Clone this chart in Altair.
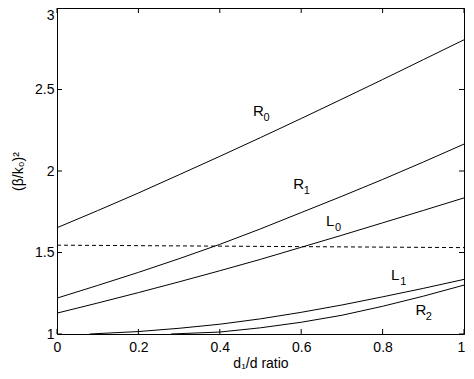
import altair as alt
import pandas as pd

# ---- data ----
x_main = [0.0, 0.1, 0.2, 0.3, 0.4, 0.5, 0.6, 0.7, 0.8, 0.9, 1.0]
r0 = [1.652, 1.757, 1.865, 1.977, 2.090, 2.205, 2.322, 2.441, 2.561, 2.683, 2.805]
r1 = [1.220, 1.298, 1.378, 1.462, 1.550, 1.645, 1.745, 1.845, 1.948, 2.055, 2.165]
l0 = [1.128, 1.190, 1.254, 1.320, 1.388, 1.458, 1.532, 1.606, 1.682, 1.758, 1.835]
x_l1 = [0.08, 0.2, 0.3, 0.4, 0.5, 0.6, 0.7, 0.8, 0.9, 1.0]
l1 = [1.000, 1.015, 1.035, 1.060, 1.093, 1.133, 1.178, 1.228, 1.280, 1.335]
x_r2 = [0.28, 0.4, 0.5, 0.6, 0.7, 0.8, 0.9, 1.0]
r2 = [1.000, 1.012, 1.038, 1.072, 1.115, 1.170, 1.232, 1.300]
x_dash = [0.0, 1.0]
y_dash = [1.545, 1.530]

x_ticks = [0, 0.2, 0.4, 0.6, 0.8, 1]
y_ticks = [1, 1.5, 2, 2.5, 3]

lab_letter = ["R", "R", "L", "L", "R"]
lab_sub = ["0", "1", "0", "1", "2"]
lab_x = [0.495, 0.594, 0.671, 0.831, 0.894]
lab_y = [2.366, 1.921, 1.695, 1.360, 1.146]

FONT = "Liberation Sans"
W, H = 407, 326

rows = []
for name, xs_, ys_ in [("R0", x_main, r0), ("R1", x_main, r1), ("L0", x_main, l0),
                       ("L1", x_l1, l1), ("R2", x_r2, r2)]:
    for a, b in zip(xs_, ys_):
        rows.append({"curve": name, "x": a, "y": b})
curves = pd.DataFrame(rows)
dash = pd.DataFrame({"x": x_dash, "y": y_dash})
labels = pd.DataFrame({"letter": lab_letter, "sub": lab_sub, "x": lab_x, "y": lab_y})
xt = pd.DataFrame({"t": x_ticks})
yt = pd.DataFrame({"t": y_ticks})

xs = alt.Scale(domain=[0, 1], nice=False, zero=False)
ys = alt.Scale(domain=[1, 3], nice=False, zero=False)

xaxis = alt.Axis(values=x_ticks, format="~g", title="d₁/d ratio", ticks=False,
                 grid=False, labelFont=FONT, labelFontSize=14, labelColor="black",
                 labelPadding=6, titleFont=FONT, titleFontSize=14, titleFontWeight="normal",
                 titleColor="black", titlePadding=2, domainColor="black",
                 labelFlush=False,
                 labelOffset=alt.ExprRef(expr="datum.value == 1 ? -3 : 0"))
yaxis = alt.Axis(values=y_ticks, format="~g", title="(β/k₀)²", ticks=False,
                 grid=False, labelFont=FONT, labelFontSize=14, labelColor="black",
                 labelPadding=3, titleFont=FONT, titleFontSize=14, titleFontWeight="normal",
                 titleColor="black", titlePadding=9, domainColor="black",
                 labelFlush=False,
                 labelOffset=alt.ExprRef(expr="datum.value == 3 ? 7 : 0"))

lines = alt.Chart(curves).mark_line(color="black", strokeWidth=1).encode(
    x=alt.X("x:Q", scale=xs, axis=xaxis),
    y=alt.Y("y:Q", scale=ys, axis=yaxis),
    detail="curve:N",
)
dashed = alt.Chart(dash).mark_line(color="black", strokeWidth=1, strokeDash=[4, 3]).encode(
    x=alt.X("x:Q", scale=xs), y=alt.Y("y:Q", scale=ys)
)
letters = alt.Chart(labels).mark_text(font=FONT, fontSize=15, color="black",
                                      align="center", baseline="middle").encode(
    x=alt.X("x:Q", scale=xs), y=alt.Y("y:Q", scale=ys), text="letter:N"
)
subs = alt.Chart(labels).mark_text(font=FONT, fontSize=11, color="black",
                                   align="center", baseline="middle", dx=8, dy=7).encode(
    x=alt.X("x:Q", scale=xs), y=alt.Y("y:Q", scale=ys), text="sub:N"
)

tk = 5
bot_ticks = alt.Chart(xt).mark_rule(color="black", strokeWidth=1).encode(
    x=alt.X("t:Q", scale=xs), y=alt.value(H), y2=alt.value(H - tk))
top_ticks = alt.Chart(xt).mark_rule(color="black", strokeWidth=1).encode(
    x=alt.X("t:Q", scale=xs), y=alt.value(0), y2=alt.value(tk))
left_ticks = alt.Chart(yt).mark_rule(color="black", strokeWidth=1).encode(
    y=alt.Y("t:Q", scale=ys), x=alt.value(0), x2=alt.value(tk))
right_ticks = alt.Chart(yt).mark_rule(color="black", strokeWidth=1).encode(
    y=alt.Y("t:Q", scale=ys), x=alt.value(W), x2=alt.value(W - tk))

chart = alt.layer(lines, dashed, letters, subs, bot_ticks, top_ticks, left_ticks, right_ticks).properties(
    width=W, height=H,
    padding={"left": 49, "top": 0, "right": 2, "bottom": 37},
    autosize=alt.AutoSizeParams(type="none"),
    background="white",
).configure_view(stroke="black", strokeWidth=1)

chart.save("out.html", embed_options={"renderer": "svg", "actions": False})
